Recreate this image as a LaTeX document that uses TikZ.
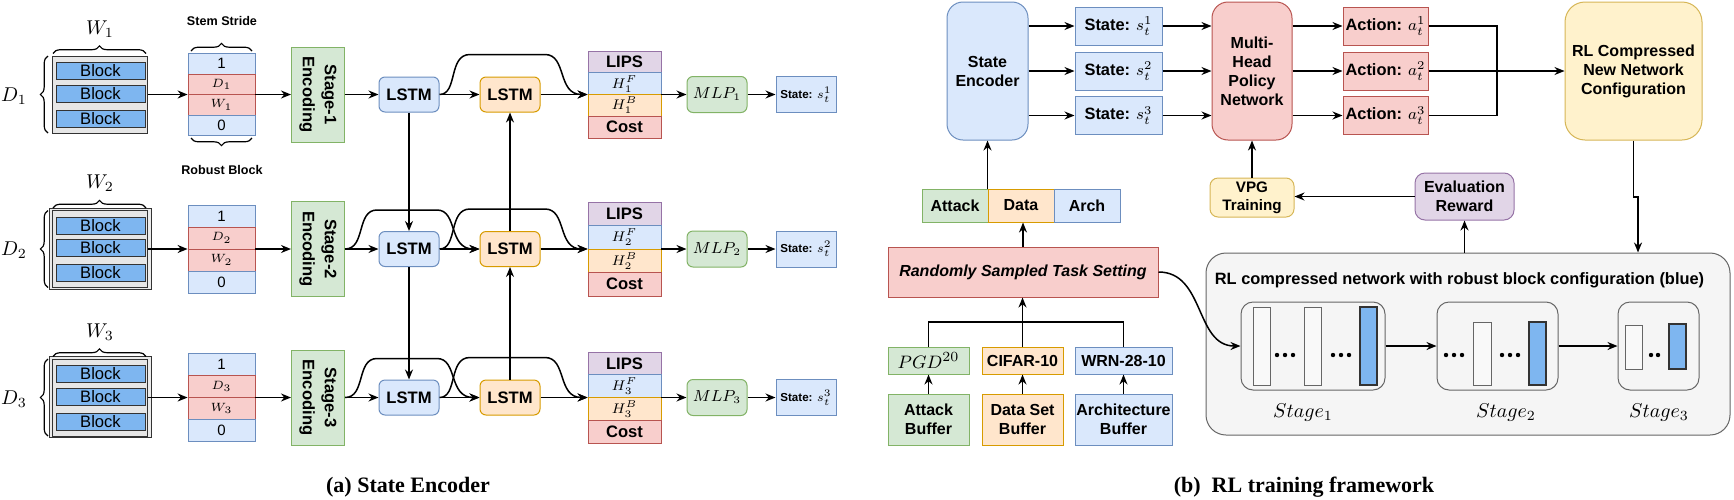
\documentclass[tikz,border=0pt]{standalone}
\usepackage[no-math]{fontspec}
\setmainfont{Liberation Sans}
\newfontfamily\capfont{Liberation Serif}
\usetikzlibrary{arrows.meta,decorations.pathreplacing}
\definecolor{bF}{HTML}{DAE8FC}\definecolor{bD}{HTML}{6C8EBF}
\definecolor{rF}{HTML}{F8CECC}\definecolor{rD}{HTML}{B85450}
\definecolor{gF}{HTML}{D5E8D4}\definecolor{gD}{HTML}{82B366}
\definecolor{oF}{HTML}{FFE6CC}\definecolor{oD}{HTML}{D79B00}
\definecolor{pF}{HTML}{E1D5E7}\definecolor{pD}{HTML}{9673A6}
\definecolor{yF}{HTML}{FFF2CC}\definecolor{yD}{HTML}{D6B656}
\definecolor{kF}{HTML}{F5F5F5}\definecolor{kD}{HTML}{666666}
\definecolor{cF}{HTML}{E6E6E6}\definecolor{dk}{HTML}{333333}
\definecolor{blkF}{HTML}{7EB6F0}
\newcommand\myfs[2]{\fontsize{#1}{#2}\selectfont}
\tikzset{
 bx/.style={draw, line width=0.5pt, inner sep=0pt, align=center},
 cb/.style={bx, fill=bF, draw=bD},
 cr/.style={bx, fill=rF, draw=rD},
 cg/.style={bx, fill=gF, draw=gD},
 co/.style={bx, fill=oF, draw=oD},
 cp/.style={bx, fill=pF, draw=pD},
 cyl/.style={bx, fill=yF, draw=yD},
 blk/.style={bx, fill=blkF, draw=dk, minimum width=44.5pt, minimum height=8.5pt, font=\myfs{8.3}{9}},
 cont/.style={bx, fill=cF, draw=dk, minimum width=47.5pt, minimum height=38.5pt},
 sc/.style={minimum width=33.5pt, font=\myfs{7.5}{9}},
 tc/.style={minimum width=36.5pt},
 lstm/.style={rounded corners=3pt, minimum width=30pt, minimum height=17.5pt, font=\myfs{8.3}{10}\bfseries},
 con/.style={line width=0.75pt, -{Stealth[length=5pt,width=4pt]}},
 ln/.style={line width=0.75pt},
 brc/.style={decorate, decoration={brace, amplitude=3.8pt}, line width=0.6pt},
 rt/.style={font=\myfs{8}{9.5}\bfseries},
 inr/.style={draw=kD, fill=kF!60!white, line width=0.5pt},
 inb/.style={draw=dk, fill=blkF, line width=0.6pt},
}
\begin{document}
\begin{tikzpicture}[x=0.5pt,y=-0.5pt]
\useasboundingbox (0,0) rectangle (1734,499);

% ---------------- (a) State Encoder ----------------
\foreach \i/\yc/\sh/\th in {1/94.5/20.5/21.75, 2/249/22/23.5, 3/397.5/22/22.75}{
  \ifnum\i>1
    \draw[fill=cF!80!white, draw=dk, line width=0.5pt] (49,\yc-41) rectangle (151,\yc+40);
  \fi
  \node[cont] (C\i) at (99.5,\yc) {};
  \node[blk] (Ba\i) at (100.5,\yc-23.5) {Block};
  \node[blk] (Bb\i) at (100.5,\yc-1) {Block};
  \node[blk] (Bc\i) at (100.5,\yc+24) {Block};
  \draw[brc] (53,\yc-41) -- (146,\yc-41);
  \node[font=\myfs{10}{12}] (W\i) at (100,\yc-65.5) {$W_\i$};
  \draw[brc] (48,\yc+38.5) -- (48,\yc-38.5);
  \node[font=\myfs{10}{12}] (D\i) at (14,\yc+1.5) {$D_\i$};
  % stride vector
  \node[inner sep=0pt, minimum width=33.5pt, minimum height={2*\sh*1pt}] (V\i) at (221.5,\yc) {};
  \node[cb, sc, minimum height={\sh*0.5pt}] (Va\i) at (221.5,\yc-1.5*\sh) {1};
  \node[cr, sc, minimum height={\sh*0.5pt}] (Vb\i) at (221.5,\yc-0.5*\sh) {\myfs{6.5}{8}$D_\i$};
  \node[cr, sc, minimum height={\sh*0.5pt}] (Vc\i) at (221.5,\yc+0.5*\sh) {\myfs{6.5}{8}$W_\i$};
  \node[cb, sc, minimum height={\sh*0.5pt}] (Vd\i) at (221.5,\yc+1.5*\sh) {0};
  % encoding
  \node[cg, minimum width=26.5pt, minimum height=47.5pt] (E\i) at (318,\yc) {};
  \node[rotate=-90, font=\myfs{8.3}{11}\bfseries, align=center] (Et\i) at (E\i) {Stage-\i\\Encoding};
  % LSTMs
  \node[cb, lstm] (La\i) at (409,\yc) {LSTM};
  \node[co, lstm] (Lb\i) at (510,\yc) {LSTM};
  % table
  \node[inner sep=0pt, minimum width=36.5pt, minimum height={2*\th*1pt}] (T\i) at (624.5,\yc) {};
  \node[cp, tc, minimum height={\th*0.5pt}, font=\myfs{8.3}{9}\bfseries] (Ta\i) at (624.5,\yc-1.5*\th) {LIPS};
  \node[cb, tc, minimum height={\th*0.5pt}, font=\myfs{7.5}{9}] (Tb\i) at (624.5,\yc-0.5*\th) {$H_\i^F$};
  \node[co, tc, minimum height={\th*0.5pt}, font=\myfs{7.5}{9}] (Tc\i) at (624.5,\yc+0.5*\th) {$H_\i^B$};
  \node[cr, tc, minimum height={\th*0.5pt}, font=\myfs{8.3}{9}\bfseries] (Td\i) at (624.5,\yc+1.5*\th) {Cost};
  % MLP and state
  \node[cg, rounded corners=3pt, minimum width=30pt, minimum height=18pt, font=\myfs{7.6}{9}] (M\i) at (717,\yc) {$MLP_\i$};
  \node[cb, minimum width=30pt, minimum height=18pt, font=\myfs{5.8}{7}\bfseries] (S\i) at (806,\yc) {State: $s_t^\i$};
  % connectors
  \draw[con] (C\i.east) -- (V\i.west);
  \draw[con] (V\i.east) -- (E\i.west);
  \draw[con] (E\i.east) -- (La\i.west);
  \draw[con] (La\i.east) -- (Lb\i.west);
  \draw[con] (Lb\i.east) -- (T\i.west);
  \draw[con] (T\i.east) -- (M\i.west);
  \draw[con] (M\i.east) -- (S\i.west);
  \draw[con] (La\i.east) .. controls (458,\yc) and (448,\yc-40) .. (470,\yc-40) -- (545,\yc-40) .. controls (567,\yc-40) and (557,\yc) .. (T\i.west);
  \ifnum\i>1
    \draw[con] (E\i.east) .. controls (366,\yc) and (356,\yc-39) .. (377,\yc-39) -- (437,\yc-39) .. controls (458,\yc-39) and (448,\yc) .. (Lb\i.west);
  \fi
}
\draw[con] (La1) -- (La2);
\draw[con] (La2) -- (La3);
\draw[con] (Lb3) -- (Lb2);
\draw[con] (Lb2) -- (Lb1);
\draw[brc] (191,51) -- (252,51);
\draw[brc] (252,138) -- (191,138);
\node[font=\myfs{6.3}{7}\bfseries] (SS) at (222,21) {Stem Stride};
\node[font=\myfs{6.3}{7}\bfseries] (RB) at (222,170) {Robust Block};

% ---------------- (b) RL training framework ----------------
\node[bx, fill=kF, draw=kD, rounded corners=10pt, minimum width=262pt, minimum height=91pt] (G) at (1468,344) {};
\node[font=\myfs{8.2}{9}\bfseries] (GT) at (1459.5,280) {RL compressed network with robust block configuration (blue)};

\node[cb, rt, rounded corners=8pt, minimum width=40.5pt, minimum height=69pt] (SE) at (987.5,71) {State\\Encoder};
\node[cr, rt, rounded corners=8pt, minimum width=40pt, minimum height=69pt] (MH) at (1252,71) {Multi-\\Head\\Policy\\Network};
\node[cyl, rt, rounded corners=10pt, minimum width=68.5pt, minimum height=69pt] (RL) at (1633.5,71) {RL Compressed\\New Network\\Configuration};
\foreach \j/\y in {1/26,2/71,3/115.5}{
  \node[cb, minimum width=43.5pt, minimum height=19pt, font=\myfs{8.2}{10}\bfseries] (RS\j) at (1118.5,\y) {State: $s_t^\j$};
  \node[cr, minimum width=42.5pt, minimum height=19pt, font=\myfs{8.2}{10}\bfseries] (A\j) at (1385.5,\y) {Action: $a_t^\j$};
  \draw[con] (SE.east |- RS\j) -- (RS\j.west);
  \draw[con] (RS\j.east) -- (RS\j.east -| MH.west);
  \draw[con] (MH.east |- A\j) -- (A\j.west);
}
\coordinate (jA) at (1497,26);
\coordinate (jB) at (1497,115.5);
\draw[ln] (A1.east) -- (jA) -- (jB) -- (A3.east);
\draw[con] (A2.east) -- (RL.west |- A2);

\node[cyl, rounded corners=4pt, minimum width=42pt, minimum height=19.5pt, font=\myfs{7.6}{9}\bfseries] (VPG) at (1252,197.5) {VPG\\Training};
\node[cp, rt, rounded corners=5pt, minimum width=49.5pt, minimum height=23.5pt] (EV) at (1464.5,196.5) {Evaluation\\Reward};
\draw[con] (VPG) -- (MH);
\draw[con] (EV.west) -- (EV.west -| VPG.east);
\coordinate (k1) at (1633.5,197);
\coordinate (k2) at (1638,197);
\draw[con] (RL.south) -- (k1) -- (k2) -- (k2 |- G.north);
\draw[con] (G.north -| EV.south) -- (EV.south);

\node[cg, rt, minimum width=33pt, minimum height=16.5pt] (AT) at (955,205.5) {Attack};
\node[co, rt, minimum width=33pt, minimum height=16.5pt] (DA) at (1021,205.5) {Data};
\node[cb, rt, minimum width=33pt, minimum height=16.5pt] (AR) at (1087,205.5) {Arch};
\draw[con] (SE.south |- AT.north) -- (SE.south);

\node[cr, minimum width=135pt, minimum height=25pt, font=\myfs{8}{10}\bfseries\itshape] (RT) at (1023,272) {Randomly Sampled Task Setting};
\draw[con] (RT.north) -- (RT.north |- DA.south);

\node[cg, minimum width=40.5pt, minimum height=13.5pt, font=\myfs{9.5}{10}] (PG) at (928.5,360.5) {$PGD^{20}$};
\node[co, rt, minimum width=40.5pt, minimum height=13.5pt] (CF) at (1022.5,360.5) {CIFAR-10};
\node[cb, rt, minimum width=48.5pt, minimum height=13.5pt] (WR) at (1123.5,360.5) {WRN-28-10};
\node[cg, rt, minimum width=40.5pt, minimum height=25.5pt] (AB) at (928.5,419.5) {Attack\\Buffer};
\node[co, rt, minimum width=40.5pt, minimum height=25.5pt] (DB) at (1022.5,419.5) {Data Set\\Buffer};
\node[cb, rt, minimum width=48.5pt, minimum height=25.5pt] (ARB) at (1123.5,419.5) {Architecture\\Buffer};
\draw[con] (AB) -- (PG);
\draw[con] (DB) -- (CF);
\draw[con] (ARB) -- (WR);
\coordinate (jL) at (928.5,322);
\coordinate (jR) at (1123.5,322);
\draw[ln] (PG.north) -- (jL) -- (jR) -- (WR.north);
\draw[con] (CF.north) -- (CF.north |- RT.south);

% stages
\node[bx, fill=kF, draw=kD, rounded corners=6pt, minimum width=72pt, minimum height=44pt] (ST1) at (1313,346) {};
\node[bx, fill=kF, draw=kD, rounded corners=6pt, minimum width=60.5pt, minimum height=44pt] (ST2) at (1497.5,346) {};
\node[bx, fill=kF, draw=kD, rounded corners=6pt, minimum width=40.5pt, minimum height=44pt] (ST3) at (1658.5,346) {};
\draw[inr] (1253,307) rectangle (1270,385);
\draw[inr] (1304,307) rectangle (1321,385);
\draw[inb] (1360,307) rectangle (1377,385);
\draw[inr] (1473,322) rectangle (1491,385);
\draw[inb] (1529,322) rectangle (1546,385);
\draw[inr] (1625,325) rectangle (1642,369);
\draw[inb] (1669,324) rectangle (1686,369);
\foreach \dx in {1277,1285,1293,1333,1341,1349,1446,1454,1462,1502,1510,1518,1651,1658}{
  \fill (\dx,355) circle (2.2);
}
\draw[con] (ST1.east) -- (ST2.west);
\draw[con] (ST2.east) -- (ST3.west);
\node[font=\myfs{9.6}{11}] (SL1) at (1303,413) {$Stage_1$};
\node[font=\myfs{9.6}{11}] (SL2) at (1506,413) {$Stage_2$};
\node[font=\myfs{9.6}{11}] (SL3) at (1659,413) {$Stage_3$};
\draw[con] (RT.east) .. controls (1205,272) and (1195,346) .. (ST1.west);

% captions
\node[font=\capfont\myfs{11}{13}\bfseries] (capA) at (408,487) {(a) State Encoder};
\node[font=\capfont\myfs{11}{13}\bfseries] (capB) at (1304,487) {(b)\ \ RL training framework};
\end{tikzpicture}
\end{document}
